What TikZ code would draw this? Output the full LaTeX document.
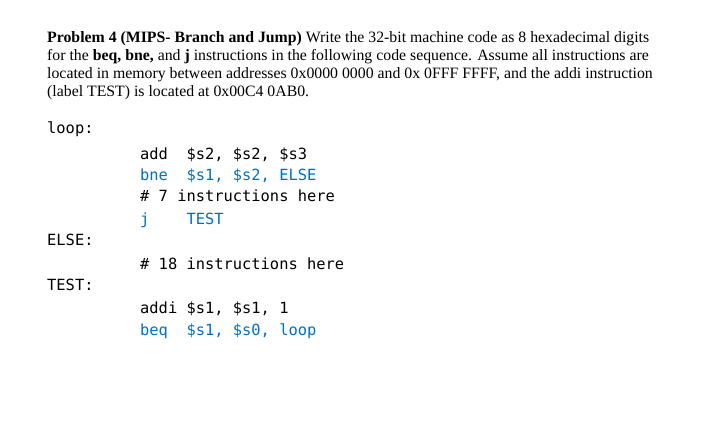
\documentclass[tikz,border=0pt]{standalone}
\usepackage{fontspec}
\setmainfont{Liberation Serif}
\newfontfamily\codefont{DejaVu Sans Mono}
\definecolor{codeblue}{RGB}{0,112,192}
\begin{document}
\begin{tikzpicture}[x=1pt,y=1pt,
  para/.style={anchor=base west,inner sep=0,font=\fontsize{15.8}{18}\selectfont},
  code/.style={anchor=base west,inner sep=0,font=\codefont\fontsize{15.4}{18}\selectfont},
  bluecode/.style={code,text=codeblue}]
\useasboundingbox (0,0) rectangle (718,-435);
\node[para] (p1) at (47,-43) {\textbf{Problem 4 (MIPS- Branch and Jump)} Write the 32-bit machine code as 8 hexadecimal digits};
\node[para] (p2) at (47,-61) {for the \textbf{beq, bne,} and \textbf{j} instructions in the following code sequence. Assume all instructions are};
\node[para] (p3) at (47,-79) {located in memory between addresses 0x0000 0000 and 0x 0FFF FFFF, and the addi instruction};
\node[para] (p4) at (47,-97) {(label TEST) is located at 0x00C4 0AB0.};
\node[code] (l1) at (47,-134) {loop:};
\node[code] (c1) at (140,-160) {add\ \ \$s2,\ \$s2,\ \$s3};
\node[bluecode] (c2) at (140,-181) {bne\ \ \$s1,\ \$s2,\ ELSE};
\node[code] (c3) at (140,-202) {\#\ 7\ instructions\ here};
\node[bluecode] (c4) at (140,-225) {j\ \ \ \ TEST};
\node[code] (l2) at (47,-246) {ELSE:};
\node[code] (c5) at (140,-270) {\#\ 18\ instructions\ here};
\node[code] (l3) at (47,-291) {TEST:};
\node[code] (c6) at (140,-314) {addi\ \$s1,\ \$s1,\ 1};
\node[bluecode] (c7) at (140,-336) {beq\ \ \$s1,\ \$s0,\ loop};
\end{tikzpicture}
\end{document}
